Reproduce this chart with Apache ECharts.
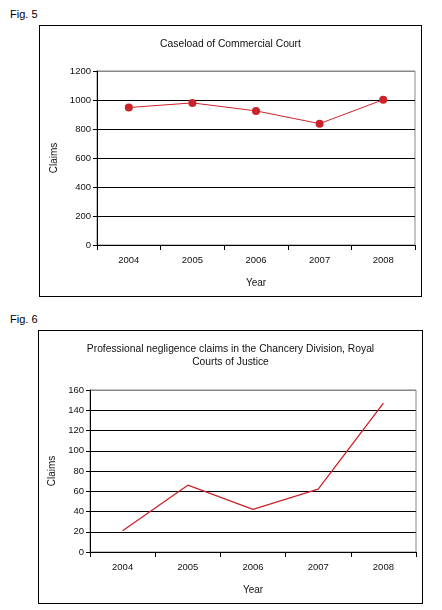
<!DOCTYPE html>
<html><head><meta charset="utf-8">
<script src="https://cdn.jsdelivr.net/npm/echarts@6/dist/echarts.min.js"></script>
<style>
html,body{margin:0;padding:0;background:#fff;width:442px;height:610px;overflow:hidden;font-family:"Liberation Sans",Arial,sans-serif;}
.fig{position:absolute;left:10px;font-size:11px;color:#000;}
.box{position:absolute;border:1.3px solid #000;box-sizing:border-box;}
</style></head>
<body>
<div class="fig" style="top:8px">Fig. 5</div>
<div class="box" id="c1" style="left:39px;top:25px;width:383px;height:272px"></div>
<div class="fig" style="top:313px">Fig. 6</div>
<div class="box" id="c2" style="left:38px;top:330px;width:385px;height:274px"></div>
<script>
const years = ['2004','2005','2006','2007','2008'];
const commercialClaims = [948, 980, 925, 837, 1002];
const negligenceClaims = [21, 66, 42, 62, 147];
const title1 = 'Caseload of Commercial Court';
const title2 = 'Professional negligence claims in the Chancery Division, Royal\nCourts of Justice';
const FONT = '"Liberation Sans", Arial, sans-serif';
const RED = '#cc2229';

function makeOpt(title, data, max, interval, grid, nameGap, titleTop, withMarkers) {
  const nLines = Math.round(max / interval) + 1;
  const splitColors = [];
  for (let i = 0; i < nLines; i++) splitColors.push(i === nLines - 1 ? '#888' : '#000');
  return {
    animation: false,
    textStyle: {fontFamily: FONT},
    title: {text: title, left: 'center', top: titleTop,
      textStyle: {fontSize: 10.3, fontWeight: 'normal', color: '#111', fontFamily: FONT, lineHeight: 13}},
    grid: Object.assign({show: true, borderColor: '#888', borderWidth: 1, backgroundColor: 'transparent'}, grid),
    xAxis: {
      type: 'category', data: years, boundaryGap: true,
      name: 'Year', nameLocation: 'middle', nameGap: 33,
      nameTextStyle: {fontSize: 10, color: '#111', fontFamily: FONT},
      axisLine: {lineStyle: {color: '#000', width: 1}},
      axisTick: {show: true, inside: false, length: 5, lineStyle: {color: '#000'}},
      axisLabel: {fontSize: 9.5, color: '#111', margin: 10, fontFamily: FONT}
    },
    yAxis: {
      type: 'value', min: 0, max: max, interval: interval,
      name: 'Claims', nameLocation: 'middle', nameGap: nameGap,
      nameTextStyle: {fontSize: 10, color: '#111', fontFamily: FONT},
      axisLine: {show: true, lineStyle: {color: '#000', width: 1}},
      axisTick: {show: true, length: 4, lineStyle: {color: '#000'}},
      axisLabel: {fontSize: 9.5, color: '#111', margin: 6, fontFamily: FONT,
        formatter: function (v) { return String(v); }},
      splitLine: {show: true, lineStyle: {color: splitColors, width: 1}}
    },
    series: [{
      type: 'line', data: data,
      symbol: withMarkers ? 'circle' : 'none', symbolSize: 8,
      itemStyle: {color: RED},
      lineStyle: {color: RED, width: withMarkers ? 1 : 1.3}
    }]
  };
}

const ch1 = echarts.init(document.getElementById('c1'), null, {renderer: 'canvas'});
ch1.setOption(makeOpt(title1, commercialClaims, 1200, 200,
  {left: 57, right: 6, top: 45, bottom: 51}, 35, 7, true));
const ch2 = echarts.init(document.getElementById('c2'), null, {renderer: 'canvas'});
ch2.setOption(makeOpt(title2, negligenceClaims, 160, 20,
  {left: 51, right: 6, top: 59, bottom: 51}, 30, 7, false));
</script>
</body></html>
